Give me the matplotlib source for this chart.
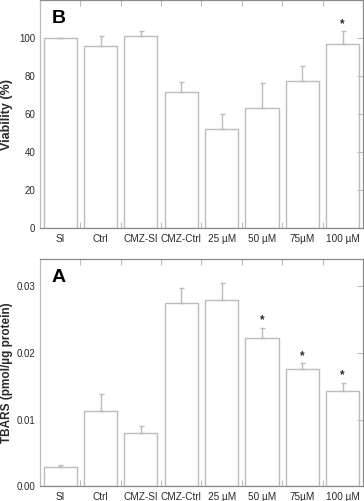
'''
    Viability and TBARS bar panels
'''
import matplotlib
matplotlib.use('Agg')
import matplotlib.pyplot as plt
import numpy as np

groups = ['SI', 'Ctrl', 'CMZ-SI', 'CMZ-Ctrl', '25 µM', '50 µM', '75µM', '100 µM']

# panel B: viability (%)
viability = [100.0, 96.1, 101.0, 71.5, 52.0, 63.4, 77.3, 96.8]
viability_err = [0.0, 5.1, 2.7, 5.3, 7.9, 13.0, 7.9, 6.9]
viability_sig = [False, False, False, False, False, False, False, True]

# panel A: TBARS (pmol/µg protein)
tbars = [0.00284, 0.01126, 0.00802, 0.02746, 0.0279, 0.02222, 0.01759, 0.0143]
tbars_err = [0.0004, 0.0025, 0.00105, 0.0023, 0.0025, 0.0015, 0.00085, 0.00125]
tbars_sig = [False, False, False, False, False, True, True, True]

plt.rcParams['font.family'] = ['Liberation Sans', 'DejaVu Sans']
bar_grey = '#bcbcbc'
spine_grey = '#8a8a8a'
text_col = '#2a2a2a'

fig = plt.figure(figsize=(3.64, 5.01), dpi=100)
ax_b = fig.add_axes([0.110, 0.545, 0.887, 0.4545])
ax_a = fig.add_axes([0.110, 0.0293, 0.887, 0.4531])


def draw_panel(ax, values, errs, sig, ylim, yticks, ylabel, lab_size, letter, fmt, star_gap):
    x = np.arange(len(values))
    ax.bar(x, values, width=0.82, color='white', edgecolor=bar_grey, linewidth=1.0)
    ax.errorbar(x, values, yerr=[np.zeros(len(errs)), errs], fmt='none',
                ecolor=bar_grey, elinewidth=1.0, capsize=1.8, capthick=1.0)
    for xi, v, e, s in zip(x, values, errs, sig):
        if s:
            ax.text(xi, v + e + star_gap, '*', ha='center', va='center',
                    fontsize=8.5, fontweight='bold', color=text_col)
    ax.set_xlim(-0.5, len(values) - 0.5)
    ax.set_ylim(*ylim)
    ax.set_yticks(yticks)
    ax.set_yticklabels([fmt.format(t) for t in yticks], fontsize=7, color=text_col)
    ax.set_xticks(x)
    ax.set_xticklabels(groups, fontsize=7.2, color=text_col)
    ax.tick_params(axis='x', which='major', length=0, pad=4)
    ax.set_xticks(np.arange(0.5, len(values) - 1, 1.0), minor=True)
    ax.tick_params(axis='x', which='minor', direction='in', length=4,
                   top=True, bottom=True, color=bar_grey, width=0.8)
    ax.tick_params(axis='y', direction='in', length=4, right=True, left=False,
                   color=bar_grey, width=0.8, pad=3.5)
    for sp in ax.spines.values():
        sp.set_color(spine_grey)
        sp.set_linewidth(0.9)
    ax.spines['left'].set_color(bar_grey)
    ax.set_ylabel(ylabel, fontsize=lab_size, fontweight='bold', color=text_col)
    ax.yaxis.set_label_coords(-0.084, 0.5)
    ax.text(0.035, 0.92, letter, transform=ax.transAxes, fontsize=14,
            fontweight='bold', color='black', va='center', ha='left')


draw_panel(ax_b, viability, viability_err, viability_sig, (0, 120),
           [0, 20, 40, 60, 80, 100], 'Viability (%)', 9, 'B', '{:.0f}', 3.6)
draw_panel(ax_a, tbars, tbars_err, tbars_sig, (0, 0.034),
           [0.0, 0.01, 0.02, 0.03], 'TBARS (pmol/µg protein)', 8.5, 'A', '{:.2f}', 0.0011)

fig.savefig('out.png', dpi=100)
